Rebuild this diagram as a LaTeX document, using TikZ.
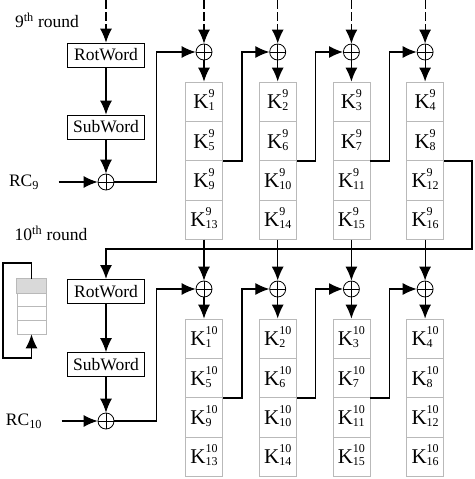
\documentclass[tikz,border=0pt]{standalone}
\usepackage{fontspec}
\setmainfont{Liberation Serif}
\usetikzlibrary{arrows.meta}

% key word with stacked round / index
\newcommand{\kw}[2]{K\raisebox{-2pt}{\fontsize{12}{13}\selectfont\begin{tabular}[b]{@{}l@{}}#1\\#2\end{tabular}}}

\begin{document}
\begin{tikzpicture}[
                x=1pt, y=-1pt,
                every node/.style={font=\fontsize{17.5}{20}\selectfont}, % Times-like text
                wordbox/.style={rectangle, draw, thick, minimum width=77pt, minimum height=24pt, inner sep=0pt}, % RotWord / SubWord
                keycell/.style={rectangle, draw=gray!55, thick, fill=white, minimum width=37pt, minimum height=39.3pt, inner sep=0pt, font=\fontsize{21}{24}\selectfont}, % one key word
                regcell/.style={rectangle, draw=gray!55, thick, minimum width=29pt, minimum height=13.75pt, inner sep=0pt}, % register slot
                xor/.style={circle, draw, thick, minimum size=16pt, inner sep=0pt,
                    path picture={\draw[thick] (path picture bounding box.north) -- (path picture bounding box.south)
                        (path picture bounding box.west) -- (path picture bounding box.east);}}, % XOR gate
                link/.style={draw, line width=1.2pt, -{Latex[length=14pt,width=12pt]}}, % Connector with arrow
                feed/.style={draw, line width=1.2pt, dash pattern=on 9pt off 3pt} % Dashed input
                ]
    \useasboundingbox (0,0) rectangle (474,479);

    % round labels
    \node (r9) at (47,20) {9\textsuperscript{th} round};
    \node (r10) at (51,233) {10\textsuperscript{th} round};

    % left column, 9th round
    \node[wordbox] (rot9) at (106,55) {RotWord};
    \node[wordbox] (sub9) at (106,127) {SubWord};
    \node[xor] (rcx9) at (106,182) {};
    \node (rc9) at (24,182) {RC\textsubscript{9}};

    % left column, 10th round
    \node[wordbox] (rot10) at (106,291.5) {RotWord};
    \node[wordbox] (sub10) at (106,364.5) {SubWord};
    \node[xor] (rcx10) at (106,421) {};
    \node (rc10) at (24,421) {RC\textsubscript{10}};

    % key columns
    \foreach \c in {1,...,4} {
        \pgfmathsetmacro{\cx}{204+73.7*(\c-1)}
        \node[xor] (x9-\c) at (\cx,52) {};
        \node[xor] (x10-\c) at (\cx,289) {};
        \foreach \r in {1,...,4} {
            \pgfmathtruncatemacro{\idx}{4*(\r-1)+\c}
            \node[keycell] (k9-\c-\r) at (\cx,{101.65+39.3*(\r-1)}) {\kw{9}{\idx}};
            \node[keycell] (k10-\c-\r) at (\cx,{338.65+39.3*(\r-1)}) {\kw{10}{\idx}};
        }
        \coordinate (in-\c) at (\cx,0);
        \coordinate (dash-\c) at (\cx,24);
        \draw[feed] (in-\c) -- (dash-\c);
        \draw[link] (dash-\c) -- (x9-\c.north);
        \draw[link] (x9-\c.south) -- (k9-\c-1.north);
        \draw[link] (x10-\c.south) -- (k10-\c-1.north);
    }
    \coordinate (in-0) at (106,0);
    \coordinate (dash-0) at (106,24);
    \draw[feed] (in-0) -- (dash-0);
    \draw[link] (dash-0) -- (rot9.north);

    % 9th round words
    \draw[link] (rot9) -- (sub9);
    \draw[link] (sub9) -- (rcx9);
    \draw[link] ([xshift=16pt]rc9.east) -- (rcx9.west);
    \draw[link] (rcx9.east) -- ++(42,0) |- (x9-1.west);
    \foreach \c/\d in {1/2,2/3,3/4}
        \draw[link] (k9-\c-2.south east) -- ++(19,0) |- (x9-\d.west);

    % feedback into the 10th round
    \coordinate (turn) at (472,249);
    \draw[link, line width=1.8pt] (k9-4-2.south east) -| (turn) -| (rot10.north);
    \foreach \c in {1,...,4}
        \draw[link] (k9-\c-4.south) -- (x10-\c.north);

    % 10th round words
    \draw[link] (rot10) -- (sub10);
    \draw[link] (sub10) -- (rcx10);
    \draw[link] ([xshift=16pt]rc10.east) -- (rcx10.west);
    \draw[link] (rcx10.east) -- ++(42,0) |- (x10-1.west);
    \foreach \c/\d in {1/2,2/3,3/4}
        \draw[link] (k10-\c-2.south east) -- ++(19,0) |- (x10-\d.west);

    % rotating register
    \foreach \i in {1,...,4}
        \node[regcell] (reg\i) at (31.5,{285.875+13.75*(\i-1)}) {};
    \fill[gray!30] (reg1.north west) rectangle (reg1.south east);
    \draw[gray!55, thick] (reg1.north west) rectangle (reg1.south east);
    \coordinate (lt) at (3,263);
    \coordinate (lb) at (3,358);
    \draw[link] (reg1.north) |- (lt) -- (lb) -| (reg4.south);
    \draw[line width=2.6pt] (lt) -- (lb);
\end{tikzpicture}
\end{document}
